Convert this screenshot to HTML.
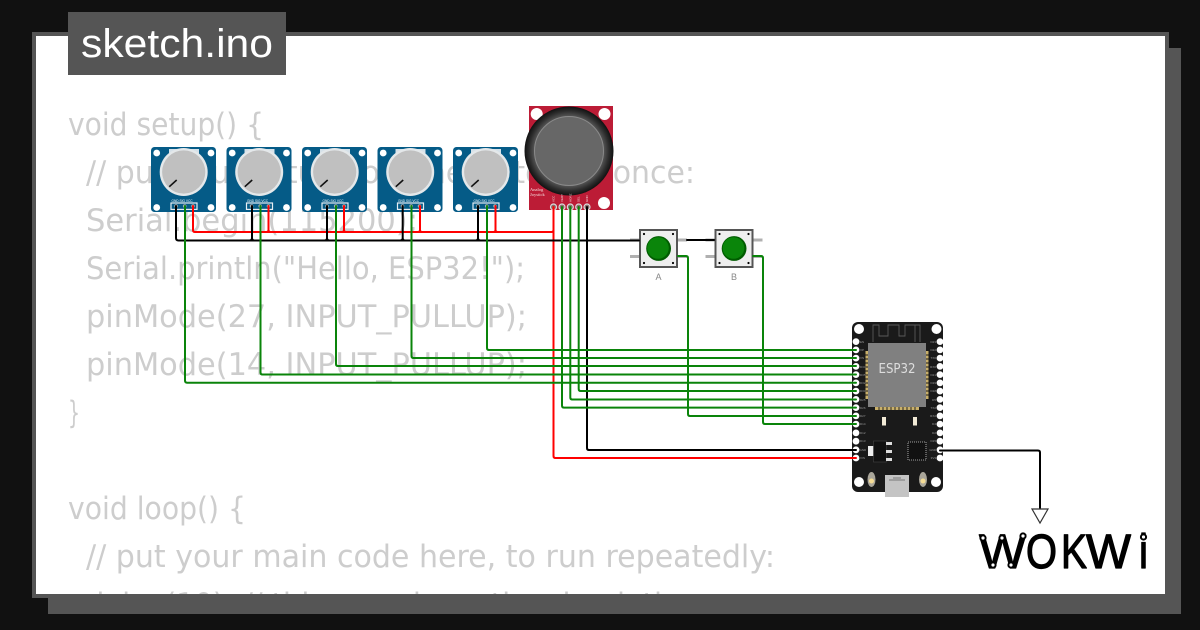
<!DOCTYPE html>
<html lang="en">
<head>
<meta charset="utf-8">
<title>sketch.ino</title>
<style>
html,body{margin:0;padding:0;background:#111;width:1200px;height:630px;overflow:hidden}
svg{display:block}
.code{font-family:"DejaVu Sans",sans-serif;font-size:31px;fill:#cdcdcd}
.tiny{font-family:"Liberation Sans",sans-serif;font-size:3.2px;fill:#fff}
.esp{font-family:"Liberation Sans",sans-serif;font-size:3px;fill:#999}
.w{fill:none;stroke-width:2;stroke-linejoin:round;stroke-linecap:round}
.g{stroke:#0a840a}.r{stroke:#f00}.k{stroke:#000}
.lbl{font-family:"Liberation Sans",sans-serif;font-size:9px;fill:#888;text-anchor:middle}
.logo{font-family:"Liberation Sans",sans-serif;font-size:48px;fill:#000;stroke:#000;stroke-width:1.2;stroke-linejoin:round}
</style>
</head>
<body>
<svg width="1200" height="630" viewBox="0 0 1200 630" xmlns="http://www.w3.org/2000/svg">
<defs>
  <g id="pot">
    <rect width="65" height="65" rx="3.5" fill="#055b87"/>
    <rect x="18" y="2" width="30" height="10" fill="#d5e1e9"/>
    <circle cx="5.7" cy="6" r="3.4" fill="#fff"/><circle cx="60" cy="6" r="3.4" fill="#fff"/>
    <circle cx="5.7" cy="60.5" r="3.4" fill="#fff"/><circle cx="60" cy="60.5" r="3.4" fill="#fff"/>
    <circle cx="32.7" cy="25" r="24" fill="#e4e8ea"/>
    <circle cx="32.7" cy="25" r="21.6" fill="#c0c0c0"/>
    <line x1="18.3" y1="39.7" x2="25.7" y2="33" stroke="#111" stroke-width="1.6"/>
    <rect x="20" y="56" width="26" height="6.4" fill="#055b87" stroke="#e6edf2" stroke-width="1.2"/>
    <circle cx="25" cy="59" r="1.8" fill="#aaa"/><circle cx="33.7" cy="59" r="1.8" fill="#aaa"/><circle cx="42" cy="59" r="1.8" fill="#aaa"/>
  </g>
  <g id="btn">
    <rect x="-9" y="9.5" width="10" height="3" fill="#b0b0b0"/><rect x="-9" y="26" width="10" height="3" fill="#b0b0b0"/>
    <rect x="38" y="9.5" width="10" height="3" fill="#b0b0b0"/><rect x="38" y="26" width="10" height="3" fill="#b0b0b0"/>
    <rect x="1" y="1" width="37" height="37" fill="#eee" stroke="#555" stroke-width="2"/>
    <circle cx="5" cy="5" r="1.1" fill="#000"/><circle cx="34" cy="5" r="1.1" fill="#000"/>
    <circle cx="5" cy="34" r="1.1" fill="#000"/><circle cx="34" cy="34" r="1.1" fill="#000"/>
    <circle cx="19.6" cy="19.5" r="12.4" fill="#005c00"/>
    <circle cx="19" cy="19" r="10.8" fill="#0a850a"/>
  </g>
  <clipPath id="cardclip"><rect x="36" y="36" width="1129" height="558"/></clipPath>
  <radialGradient id="jk"><stop offset="0.78" stop-color="#555"/><stop offset="0.9" stop-color="#2c2c2c"/><stop offset="1" stop-color="#111"/></radialGradient>
</defs>

<rect width="1200" height="630" fill="#111"/>
<rect x="48" y="48" width="1133" height="566" fill="#555"/>
<rect x="32" y="32" width="1137" height="566" fill="#555"/>
<rect x="36" y="36" width="1129" height="558" fill="#fff"/>

<g clip-path="url(#cardclip)">
  <text class="code" x="68" y="135" textLength="196" lengthAdjust="spacingAndGlyphs">void setup() {</text>
  <text class="code" x="86" y="183" textLength="609" lengthAdjust="spacingAndGlyphs">// put your setup code here, to run once:</text>
  <text class="code" x="86" y="231" textLength="332" lengthAdjust="spacingAndGlyphs">Serial.begin(115200);</text>
  <text class="code" x="86" y="279" textLength="439" lengthAdjust="spacingAndGlyphs">Serial.println("Hello, ESP32!");</text>
  <text class="code" x="86" y="327" textLength="441" lengthAdjust="spacingAndGlyphs">pinMode(27, INPUT_PULLUP);</text>
  <text class="code" x="86" y="375" textLength="441" lengthAdjust="spacingAndGlyphs">pinMode(14, INPUT_PULLUP);</text>
  <text class="code" x="68" y="423" textLength="12" lengthAdjust="spacingAndGlyphs">}</text>
  <text class="code" x="68" y="519" textLength="178" lengthAdjust="spacingAndGlyphs">void loop() {</text>
  <text class="code" x="86" y="567" textLength="689" lengthAdjust="spacingAndGlyphs">// put your main code here, to run repeatedly:</text>
  <text class="code" x="86" y="615" textLength="612" lengthAdjust="spacingAndGlyphs">delay(10); // this speeds up the simulation</text>
</g>

<rect x="68" y="12" width="218" height="63" fill="#555"/>
<text x="81" y="57" font-family="'Liberation Sans',sans-serif" font-size="40" fill="#fff" textLength="192" lengthAdjust="spacingAndGlyphs">sketch.ino</text>

<!-- potentiometers -->
<use href="#pot" x="151" y="147"/>
<use href="#pot" x="226.5" y="147"/>
<use href="#pot" x="302" y="147"/>
<use href="#pot" x="377.5" y="147"/>
<use href="#pot" x="453" y="147"/>
<text class="tiny" x="171.5" y="202">GND SIG VCC</text>
<text class="tiny" x="247" y="202">GND SIG VCC</text>
<text class="tiny" x="322.5" y="202">GND SIG VCC</text>
<text class="tiny" x="398" y="202">GND SIG VCC</text>
<text class="tiny" x="473.5" y="202">GND SIG VCC</text>

<!-- joystick -->
<rect x="529" y="106" width="84" height="104" fill="#bc1c36"/>
<circle cx="536.7" cy="114" r="6" fill="#fff"/>
<circle cx="604.5" cy="114" r="6" fill="#fff"/>
<circle cx="604" cy="203" r="6" fill="#fff"/>
<circle cx="569" cy="151" r="44.5" fill="url(#jk)"/>
<circle cx="569" cy="151" r="34.5" fill="#676767" stroke="#8a8a8a" stroke-width="1"/>
<text x="530" y="191" font-family="'Liberation Serif',serif" font-size="4.5" fill="#f4dcdc">Analog</text>
<text x="530" y="196" font-family="'Liberation Serif',serif" font-size="4.5" fill="#f4dcdc">Joystick</text>
<g fill="#8a6a6a" stroke="#ddd" stroke-width="1.2">
  <circle cx="553.5" cy="207" r="3"/><circle cx="562" cy="207" r="3"/><circle cx="570.3" cy="207" r="3"/><circle cx="578.7" cy="207" r="3"/><circle cx="587" cy="207" r="3"/>
</g>
<g font-family="'Liberation Sans',sans-serif" font-size="3" fill="#f4dcdc">
  <text transform="translate(554.5,202) rotate(-90)">VCC</text>
  <text transform="translate(563,202) rotate(-90)">VERT</text>
  <text transform="translate(571.3,202) rotate(-90)">HORZ</text>
  <text transform="translate(579.7,202) rotate(-90)">SEL</text>
  <text transform="translate(588,202) rotate(-90)">GND</text>
</g>

<!-- buttons -->
<use href="#btn" x="639" y="229"/>
<use href="#btn" x="714.5" y="229"/>
<text class="lbl" x="658.5" y="280">A</text>
<text class="lbl" x="734" y="280">B</text>

<!-- ESP32 -->
<rect x="852" y="322" width="91" height="170" rx="6" fill="#1a1a1a"/>
<circle cx="859" cy="329" r="5" fill="#fff"/><circle cx="936.5" cy="329" r="5" fill="#fff"/>
<circle cx="859" cy="482" r="5" fill="#fff"/><circle cx="936" cy="482" r="5" fill="#fff"/>
<path d="M873 342V325H879V336H888V325H899V336H905V325H920V342M915 325V342" fill="none" stroke="#5a5a5a" stroke-width="0.9"/>
<rect x="865.5" y="351" width="3" height="48" fill="#c9b06a"/>
<rect x="925.5" y="351" width="3" height="48" fill="#c9b06a"/>
<rect x="875" y="407" width="44" height="3" fill="#c9b06a"/>
<g stroke="#1a1a1a" stroke-width="0.9">
  <path d="M865 355h4M865 359h4M865 363h4M865 367h4M865 371h4M865 375h4M865 379h4M865 383h4M865 387h4M865 391h4M865 395h4"/>
  <path d="M925 355h4M925 359h4M925 363h4M925 367h4M925 371h4M925 375h4M925 379h4M925 383h4M925 387h4M925 391h4M925 395h4"/>
  <path d="M879 406v5M883 406v5M887 406v5M891 406v5M895 406v5M899 406v5M903 406v5M907 406v5M911 406v5M915 406v5"/>
</g>
<rect x="868" y="343" width="58" height="64" fill="#808080"/>
<text x="897" y="373" font-family="'DejaVu Sans',sans-serif" font-size="13" fill="#ddd" text-anchor="middle" textLength="37" lengthAdjust="spacingAndGlyphs">ESP32</text>
<rect x="882" y="417" width="4" height="8.5" fill="#f2ead6"/><rect x="913" y="417" width="4" height="8.5" fill="#f2ead6"/>
<rect x="868" y="446" width="6" height="10" fill="#eee"/>
<rect x="873.5" y="441" width="13" height="21" fill="#111" stroke="#444" stroke-width="0.6"/>
<rect x="886" y="442" width="6" height="3" fill="#ddd"/><rect x="886" y="450" width="6" height="3" fill="#ddd"/><rect x="886" y="458" width="6" height="3" fill="#ddd"/>
<rect x="908" y="442" width="18" height="18" fill="#111" stroke="#ccc" stroke-width="0.8" stroke-dasharray="1 1"/>
<ellipse cx="871.5" cy="479.5" rx="4" ry="7.5" fill="#aaa69a"/><circle cx="871.5" cy="481" r="2.5" fill="#f5dc95"/>
<ellipse cx="923" cy="479.5" rx="4" ry="7.5" fill="#aaa69a"/><circle cx="923" cy="481" r="2.5" fill="#f5dc95"/>
<rect x="885" y="475" width="24" height="22" fill="#c4c4c4"/>
<path d="M889 480h16M893 478h8" stroke="#888" stroke-width="1.2" fill="none"/>

<g fill="#fff">
  <circle cx="856" cy="341.6" r="3.4"/><circle cx="856" cy="349.9" r="3.4"/><circle cx="856" cy="358.1" r="3.4"/><circle cx="856" cy="366.4" r="3.4"/><circle cx="856" cy="374.6" r="3.4"/><circle cx="856" cy="382.9" r="3.4"/><circle cx="856" cy="391.1" r="3.4"/><circle cx="856" cy="399.4" r="3.4"/><circle cx="856" cy="407.6" r="3.4"/><circle cx="856" cy="415.9" r="3.4"/><circle cx="856" cy="424.1" r="3.4"/><circle cx="856" cy="432.9" r="3.4"/><circle cx="856" cy="441.2" r="3.4"/><circle cx="856" cy="449.8" r="3.4"/><circle cx="856" cy="458" r="3.4"/>
  <circle cx="940" cy="341.6" r="3.4"/><circle cx="940" cy="349.9" r="3.4"/><circle cx="940" cy="358.1" r="3.4"/><circle cx="940" cy="366.4" r="3.4"/><circle cx="940" cy="374.6" r="3.4"/><circle cx="940" cy="382.9" r="3.4"/><circle cx="940" cy="391.1" r="3.4"/><circle cx="940" cy="399.4" r="3.4"/><circle cx="940" cy="407.6" r="3.4"/><circle cx="940" cy="415.9" r="3.4"/><circle cx="940" cy="424.1" r="3.4"/><circle cx="940" cy="432.9" r="3.4"/><circle cx="940" cy="441.2" r="3.4"/><circle cx="940" cy="449.8" r="3.4"/><circle cx="940" cy="458" r="3.4"/>
</g>
<g class="esp" text-anchor="start">
  <text x="860" y="343">EN</text><text x="860" y="351">VP</text><text x="860" y="359">VN</text><text x="860" y="368">D34</text><text x="860" y="376">D35</text><text x="860" y="384">D32</text><text x="860" y="392">D33</text><text x="860" y="401">D25</text><text x="860" y="409">D26</text><text x="860" y="417">D27</text><text x="860" y="425">D14</text><text x="860" y="434">D12</text><text x="860" y="442">D13</text><text x="859.5" y="451">GND</text><text x="860" y="459">VIN</text>
</g>
<g class="esp" text-anchor="end">
  <text x="936" y="343">D23</text><text x="936" y="351">D22</text><text x="936" y="359">TX0</text><text x="936" y="368">RX0</text><text x="936" y="376">D21</text><text x="936" y="384">D19</text><text x="936" y="392">D18</text><text x="936" y="401">D5</text><text x="936" y="409">TX2</text><text x="936" y="417">RX2</text><text x="936" y="425">D4</text><text x="936" y="434">D2</text><text x="936" y="442">D15</text><text x="936" y="451">GND</text><text x="936" y="459">3V3</text>
</g>

<!-- wires -->
<g class="w r">
  <path d="M193 206V230Q193 232 195 232H551.5Q553.5 232 553.5 230"/>
  <path d="M268.5 206V230Q268.5 232 270.5 232M268.5 230Q268.5 232 266.5 232"/>
  <path d="M344 206V230Q344 232 346 232M344 230Q344 232 342 232"/>
  <path d="M420 206V230Q420 232 422 232M420 230Q420 232 418 232"/>
  <path d="M495.5 206V230Q495.5 232 497.5 232M495.5 230Q495.5 232 493.5 232"/>
  <path d="M553.5 207V456Q553.5 458 555.5 458H856"/>
</g>
<g class="w k">
  <path d="M176 206V238Q176 240.5 178.5 240.5H639"/>
  <path d="M252 206V238Q252 240.5 254.5 240.5M252 238Q252 240.5 249.5 240.5"/>
  <path d="M327 206V238Q327 240.5 329.5 240.5M327 238Q327 240.5 324.5 240.5"/>
  <path d="M402.7 206V238Q402.7 240.5 405 240.5M402.7 238Q402.7 240.5 400 240.5"/>
  <path d="M478 206V238Q478 240.5 480.5 240.5M478 238Q478 240.5 475.5 240.5"/>
  <path d="M587 207V448Q587 450 589 450H856"/>
  <path d="M687 240H714"/>
  <path d="M940 450.5H1038Q1040 450.5 1040 452.5V508"/>
</g>
<g class="w g">
  <path d="M487 206V348Q487 350 489 350H856"/>
  <path d="M411.5 206V356Q411.5 358 413.5 358H856"/>
  <path d="M336 206V364Q336 366 338 366H856"/>
  <path d="M260.5 206V372.5Q260.5 374.5 262.5 374.5H856"/>
  <path d="M185 206V380.5Q185 382.7 187 382.7H856"/>
  <path d="M578.7 207V389Q578.7 391 580.7 391H856"/>
  <path d="M570.3 207V397.5Q570.3 399.5 572.3 399.5H856"/>
  <path d="M562 207V405.6Q562 407.6 564 407.6H856"/>
  <path d="M678 256H686Q688 256 688 258V414Q688 416 690 416H856"/>
  <path d="M753 256H761Q763 256 763 258V422Q763 424 765 424H856"/>
</g>
<path d="M1032 509H1048L1040 523Z" fill="#fff" stroke="#333" stroke-width="1.2"/>

<!-- logo -->
<g class="logo">
  <text x="979" y="568" textLength="47" lengthAdjust="spacingAndGlyphs">W</text>
  <text x="1026" y="568" textLength="31" lengthAdjust="spacingAndGlyphs">O</text>
  <text x="1061" y="568" textLength="26" lengthAdjust="spacingAndGlyphs">K</text>
  <text x="1086" y="568" textLength="45" lengthAdjust="spacingAndGlyphs">W</text>
  <text x="1139" y="568" textLength="9" lengthAdjust="spacingAndGlyphs">i</text>
</g>
<g fill="#fff" stroke="#000" stroke-width="2">
  <circle cx="983" cy="538" r="2.6"/><circle cx="1002" cy="538" r="2.6"/><circle cx="1023" cy="536" r="2.6"/>
  <circle cx="993" cy="565" r="2.6"/><circle cx="1011" cy="565" r="2.6"/><circle cx="1143.5" cy="537" r="2.6"/>
</g>
</svg>
</body>
</html>
